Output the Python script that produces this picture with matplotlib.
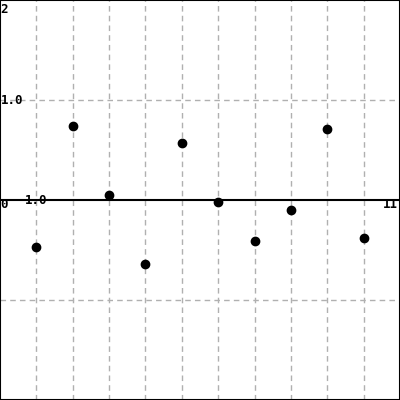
import matplotlib

matplotlib.use("Agg")
import matplotlib.pyplot as plt

x_vals = [1, 2, 3, 4, 5, 6, 7, 8, 9, 10]
y_vals = [-0.47, 0.74, 0.05, -0.64, 0.57, -0.02, -0.41, -0.10, 0.71, -0.38]
x_grid = [1, 2, 3, 4, 5, 6, 7, 8, 9, 10]
y_grid = [1, -1]

fig = plt.figure(figsize=(4, 4), dpi=100)
ax = fig.add_axes([0, 0, 1, 1])
ax.set_xlim(0, 11)
ax.set_ylim(-2, 2)
for g in x_grid:
    ax.axvline(g, color="#b0b0b0", ls=(0, (4, 3)), lw=1, zorder=0)
for g in y_grid:
    ax.axhline(g, color="#b0b0b0", ls=(0, (4, 3)), lw=1, zorder=0)
ax.axhline(0, color="black", lw=1.5, zorder=1)
ax.scatter(x_vals, y_vals, s=36, color="black", zorder=3)
for s in ax.spines.values():
    s.set_linewidth(1.5)
ax.set_xticks([])
ax.set_yticks([])

font = dict(family="DejaVu Sans Mono", fontweight="bold", fontsize=9)
ax.text(0.02, 1.97, "2", va="top", ha="left", **font)
ax.text(0.03, 1.0, "1.0", va="center", ha="left", **font)
ax.text(0.02, -0.05, "0", va="center", ha="left", **font)
ax.text(1.0, -0.01, "1.0", va="center", ha="center", **font)
ax.text(10.95, -0.05, "11", va="center", ha="right", **font)

fig.savefig("out.png", dpi=100)
